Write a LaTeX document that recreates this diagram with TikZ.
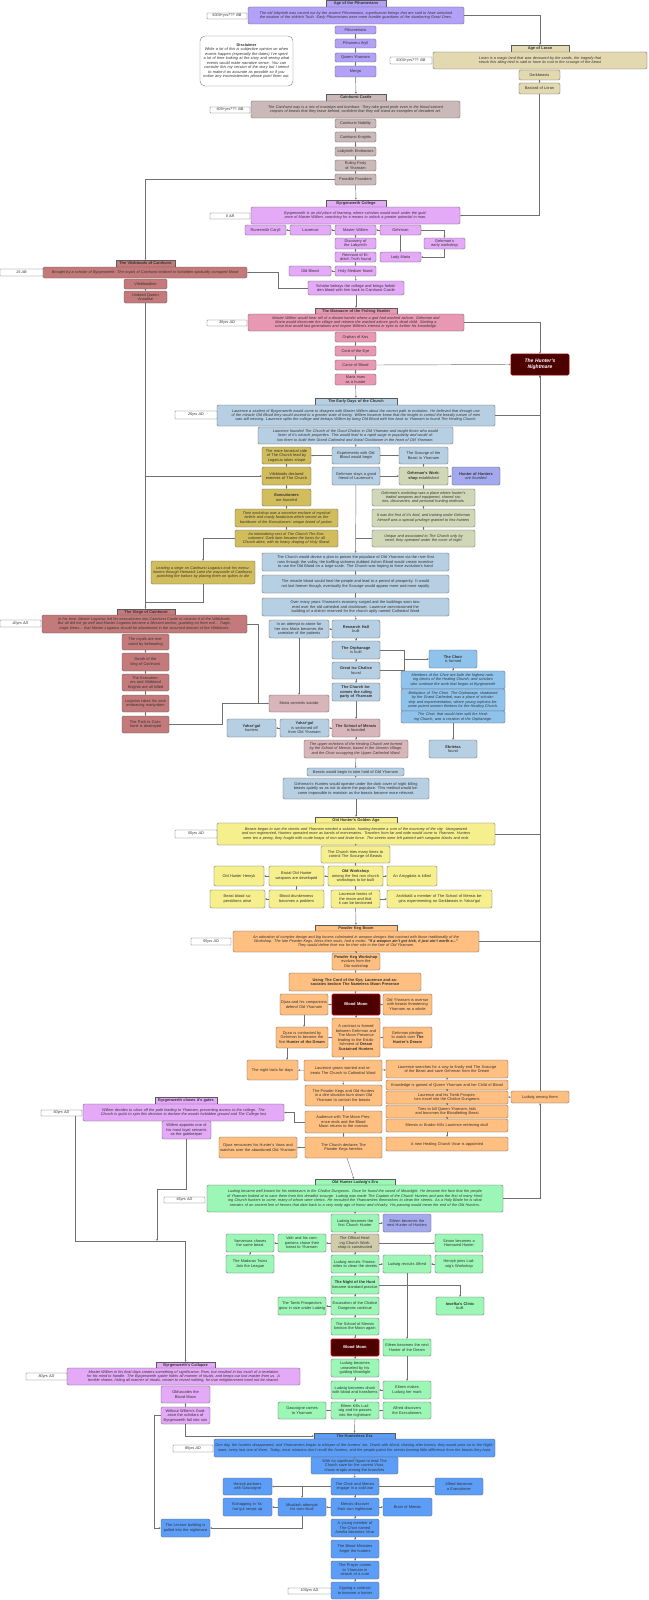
\documentclass[tikz,border=0pt]{standalone}
\usepackage{fontspec}
\setmainfont{Liberation Sans}
\usetikzlibrary{arrows.meta,calc}
\definecolor{pth}{HTML}{B3A1F7}\definecolor{lor}{HTML}{E3D9B0}\definecolor{cai}{HTML}{CBB9B9}
\definecolor{byr}{HTML}{E4A9F7}\definecolor{vil}{HTML}{C47A7A}\definecolor{ham}{HTML}{E898B3}
\definecolor{nm}{HTML}{4D0000}\definecolor{chu}{HTML}{B7CFE2}\definecolor{gol}{HTML}{D1BD5C}
\definecolor{gws}{HTML}{CFD7B7}\definecolor{hoh}{HTML}{A3A9EC}\definecolor{cho}{HTML}{8FC3EC}
\definecolor{men}{HTML}{D8B5B9}\definecolor{yel}{HTML}{F6EF8E}\definecolor{ora}{HTML}{FFBF80}
\definecolor{grn}{HTML}{9CF7B6}\definecolor{ows}{HTML}{D0CBAB}\definecolor{hl}{HTML}{5C9EF7}
\definecolor{ln}{HTML}{707070}\definecolor{txt}{HTML}{333333}
\newcommand\N[7]{\pgfmathsetmacro\tw{#4-#2-2}\pgfmathsetmacro\mw{#4-#2}\pgfmathsetmacro\mh{#5-#3}%
\node[box,#6,text width=\tw pt,minimum width=\mw pt,minimum height=\mh pt] (#1) at ({(#2+#4)/2},{(#3+#5)/2}) {#7};}
\begin{document}
\begin{tikzpicture}[x=1pt,y=-1pt,
 box/.style={draw=ln!80!black,line width=0.35pt,rounded corners=1.3pt,align=center,inner xsep=1pt,inner ysep=0.3pt,text=txt,font=\fontsize{3.9}{4.5}\selectfont},
 ti/.style={rounded corners=0pt,font=\fontsize{3.9}{4.5}\selectfont\bfseries},
 it/.style={font=\fontsize{3.8}{4.4}\selectfont\itshape},
 dt/.style={fill=white,rounded corners=0.5pt,font=\fontsize{3.8}{4.4}\selectfont\itshape},
 ar/.style={draw=ln,line width=0.45pt,-{Stealth[length=2pt,width=1.8pt]}},
 ln/.style={draw=ln,line width=0.45pt}]
\useasboundingbox (0,0) rectangle (648,1600);
\fill[white] (0,0) rectangle (648,1600);
% Pthumerians
\N{pt}{326}{0}{386}{7}{ti,fill=pth}{Age of the Pthumerians}
\N{pd}{248}{7}{464}{24}{it,fill=pth}{The old labyrinth was carved out by the ancient Pthumerians, superhuman beings that are said to have unlocked the wisdom of the eldritch Truth. Early Pthumerians were mere humble guardians of the slumbering Great Ones.}
\N{pdt}{207}{13}{247}{19}{dt}{5000+yrs??? BB}
\N{p1}{335}{26}{376}{34}{fill=pth}{Pthumerians}
\N{p2}{335}{39}{376}{48}{fill=pth}{Pthumeru Ihyll}
\N{p3}{335}{53}{376}{62}{fill=pth}{Queen Yharnam}
\N{p4}{335}{66}{376}{77}{fill=pth}{Mergo}
\N{dis}{200}{36}{293}{86}{fill=white,rounded corners=5pt,draw=ln}{\textbf{Disclaimer}\\\itshape While a lot of this is subjective opinion on when events happen (especially the dates) I've spent a lot of time looking at the story and seeing what events would make narrative sense. You can consider this my version of the story but I intend to make it as accurate as possible so if you notice any inconsistencies please point them out.}
% Loran
\N{lt}{511}{45}{569}{52}{ti,fill=lor}{Age of Loran}
\N{ld}{433}{52}{647}{69}{it,fill=lor}{Loran is a magic land that was devoured by the sands, the tragedy that struck this ailing land is said to have its root in the scourge of the beast}
\N{ldt}{390}{57}{432}{64}{dt}{5000+yrs??? BB}
\N{l1}{519}{70}{560}{80}{fill=lor}{Darkbeasts}
\N{l2}{519}{83}{560}{94}{fill=lor}{Bastard of Loran}
% Cainhurst
\N{ct}{326}{94}{386}{101}{ti,fill=cai}{Cainhurst Castle}
\N{cd}{251}{101}{460}{118}{it,fill=cai}{The Cainhurst way is a mix of nostalgia and bombast. They take great pride even in the blood-stained corpses of beasts that they leave behind, confident that they will stand as examples of decadent art.}
\N{cdt}{210}{107}{250}{113}{dt}{500+yrs??? BB}
\N{c1}{335}{119}{376}{128}{fill=cai}{Cainhurst Nobility}
\N{c2}{335}{132}{376}{142}{fill=cai}{Cainhurst Knights}
\N{c3}{335}{147}{376}{156}{fill=cai}{Labyrinth Endeavors}
\N{c4}{335}{160}{376}{171}{fill=cai}{Ruling Party of Yharnam}
\N{c5}{335}{174}{376}{185}{fill=cai}{Possible Founders}
% Byrgenwerth
\N{bt}{326}{200}{386}{207}{ti,fill=byr}{Byrgenwerth College}
\N{bd}{251}{207}{460}{224}{it,fill=byr}{Byrgenwerth is an old place of learning, where scholars would work under the guidance of Master Willem, searching for a means to unlock a greater potential in man.}
\N{bdt}{210}{213}{250}{219}{dt}{0 AB}
\N{b1}{245}{225}{286}{235}{fill=byr}{Runesmith Caryll}
\N{b2}{290}{225}{331}{235}{fill=byr}{Laurence}
\N{b3}{335}{225}{376}{235}{fill=byr}{Master Willem}
\N{b4}{380}{225}{421}{235}{fill=byr}{Gehrman}
\N{b5}{335}{238}{376}{249}{fill=byr}{Discovery of the Labyrinth}
\N{b6}{335}{252}{376}{262}{fill=byr}{Remnant of Eldritch Truth found}
\N{b7}{380}{252}{421}{262}{fill=byr}{Lady Maria}
\N{b8}{424}{238}{465}{249}{fill=byr}{Gehrman's early workshop}
\N{b9}{289}{266}{331}{276}{fill=byr}{Old Blood}
\N{b10}{335}{266}{376}{276}{fill=byr}{Holy Medium found}
\N{b11}{308}{281}{404}{295}{fill=byr}{Scholar betrays the college and brings forbidden blood with him back to Cainhurst Castle}
% Vilebloods
\N{vt}{116}{260}{175}{267}{ti,fill=vil}{The Vilebloods of Cainhurst}
\N{vd}{43}{267}{247}{278}{it,fill=vil}{Brought by a scholar of Byrgenwerth. The royals of Cainhurst imbibed in forbidden spiritually corrupted blood}
\N{vdt}{0}{269}{43}{276}{dt}{15 AB}
\N{v1}{124}{279}{167}{289}{fill=vil}{Vilebloodline}
\N{v2}{124}{291}{167}{303}{fill=vil}{Undead Queen Annalise}
% Hamlet
\N{ht}{315}{308}{397}{314}{ti,fill=ham}{The Massacre of the Fishing Hamlet}
\N{hd}{248}{314}{464}{331}{it,fill=ham}{Master Willem would hear tell of a distant hamlet where a god had washed ashore. Gehrman and Maria would desecrate the village and retrieve the washed ashore god's dead child. Starting a curse that would last generations and inspire Willem's interest in eyes to further his knowledge.}
\N{hdt}{207}{320}{247}{326}{dt}{30yrs AD}
\N{h1}{335}{332}{376}{342}{fill=ham}{Orphan of Kos}
\N{h2}{335}{346}{376}{356}{fill=ham}{Cord of the Eye}
\N{h3}{335}{360}{376}{370}{fill=ham}{Curse of Blood}
\N{h4}{335}{374}{376}{385}{fill=ham}{Maria rises as a hunter}
\N{hn}{511}{354}{569}{375}{fill=nm,draw=red!50!black,line width=0.6pt,text=white,font=\fontsize{5}{6}\selectfont\bfseries\itshape}{The Hunter's Nightmare}
% Early Church
\N{et}{315}{398}{397}{405}{ti,fill=chu}{The Early Days of the Church}
\N{e1}{217}{405}{495}{426}{it,fill=chu}{Laurence a student of Byrgenwerth would come to disagree with Master Willem about the correct path to evolution. He believed that through use of the miracle Old Blood they would ascend to a greater state of being. Willem however knew that the insight to control the beastly nature of men was still missing. Laurence splits the college and betrays Willem by bring Old Blood with him back to Yharnam to found The Healing Church.}
\N{edt}{175}{411}{217}{419}{dt}{25yrs AD}
\N{e2}{258}{427}{453}{444}{it,fill=chu}{Laurence founded The Church of the Good Chalice in Old Yharnam and taught those who would listen of it's miracle properties. This would lead to a rapid surge in popularity and would allow them to build their Grand Cathedral and Astral Clocktower in the heart of Old Yharnam.}
\N{e3}{262}{447}{311}{464}{fill=gol}{The more fanatical side of The Church lead by Logarius takes shape}
\N{e4}{332}{447}{380}{464}{fill=chu}{Experiments with Old Blood would begin}
\N{e5}{399}{447}{448}{464}{fill=chu}{The Scourge of the Beast in Yharnam}
\N{e6}{262}{467}{311}{485}{fill=gol}{Vilebloods declared enemies of The Church}
\N{e7}{332}{467}{380}{485}{fill=chu}{Gehrman stays a good friend of Laurence's}
\N{e8}{399}{467}{448}{485}{fill=gws}{\textbf{Gehrman's Workshop} established}
\N{e9}{452}{467}{500}{485}{fill=hoh}{\textbf{Hunter of Hunters}\\\textit{are founded}}
\N{e10}{262}{489}{311}{506}{fill=gol}{\textbf{Executioners}\\\textit{are founded}}
\N{e11}{235}{509}{338}{527}{it,fill=gol}{Their workshop was a secretive enclave of mystical beliefs and rowdy fanaticism which served as the backbone of the Executioners' unique brand of justice.}
\N{e12}{235}{530}{338}{547}{it,fill=gol}{An intimidating sect of The Church The Executioners' Garb later became the basis for all Church attire, with its heavy draping of Holy Shawl.}
\N{e13}{372}{489}{475}{506}{it,fill=gws}{Gehrman's workshop was a place where hunter's traded weapons and equipment, shared stories, discoveries, and personal hunting methods.}
\N{e14}{372}{509}{475}{527}{it,fill=gws}{It was the first of it's kind, and training under Gehrman himself was a special privilege granted to few hunters}
\N{e15}{372}{530}{475}{547}{it,fill=gws}{Unique and associated to The Church only by need, they operated under the cover of night}
\N{e16}{151}{561}{255}{584}{it,fill=gol}{Leading a siege on Cainhurst Logarius took his executioners through Hemwick Lane the waycastle of Cainhurst, punishing the traitors by placing them on spikes to die}
\N{e17}{262}{553}{449}{571}{fill=chu}{The Church would devise a plan to poison the populace of Old Yharnam via the river that runs through the valley, the baffling sickness dubbed Ashen Blood would create incentive to use the Old Blood on a large scale. The Church was hoping to force evolution's hand}
\N{e18}{262}{575}{449}{593}{fill=chu}{The miracle blood would heal the people and lead to a period of prosperity. It would not last forever though, eventually the Scourge would appear more and more rapidly}
\N{e19}{262}{598}{449}{616}{fill=chu}{Over many years Yharnam's economy surged and the buildings soon towered over the old cathedral and clocktower. Laurence commissioned the building of a district reserved for the church aptly named Cathedral Ward}
% Siege
\N{st}{117}{609}{175}{615}{ti,fill=vil}{The Siege of Cainhurst}
\N{sd}{42}{615}{247}{633}{it,fill=vil}{In his time, Master Logarius led his executioners into Cainhurst Castle to cleanse it of the Vilebloods. But all did not go well and Master Logarius became a blessed anchor, guarding on from evil... Tragic, tragic times... that Master Logarius should be abandoned in the accursed domain of the Vilebloods.}
\N{sdt}{0}{620}{41}{627}{dt}{40yrs AD}
\N{s1}{122}{634}{169}{650}{fill=vil}{The royals are executed by beheading}
\N{s2}{122}{653}{169}{671}{fill=vil}{Death of the king of Cainhurst}
\N{s3}{122}{674}{169}{691}{fill=vil}{The Executioners and Vileblood Knights are all killed}
\N{s4}{122}{695}{169}{712}{fill=vil}{Logarius takes his seat embracing martyrdom}
\N{s5}{122}{716}{169}{733}{fill=vil}{The Path to Cainhurst is destroyed}
\N{e20}{269}{620}{329}{638}{fill=chu}{In an attempt to atone for her sins Maria becomes the caretaker of the patients}
\N{e21}{332}{620}{380}{638}{fill=chu}{\textbf{Research Hall}\\built}
\N{e22}{332}{641}{380}{659}{fill=chu}{\textbf{The Orphanage}\\is built}
\N{e23}{332}{662}{380}{679}{fill=chu}{\textbf{Great Isz Chalice}\\found}
\N{e24}{429}{650}{477}{668}{fill=cho}{\textbf{The Choir}\\is formed}
\N{e25}{401}{671}{505}{689}{it,fill=cho}{Members of the Choir are both the highest ranking clerics of the Healing Church, and scholars who continue the work that began at Byrgenwerth}
\N{e26}{401}{689}{505}{711}{it,fill=cho}{Birthplace of The Choir. The Orphanage, shadowed by the Grand Cathedral, was a place of scholarship and experimentation, where young orphans became potent unseen thinkers for the Healing Church.}
\N{e27}{401}{711}{505}{723}{it,fill=cho}{The Choir, that would later split the Healing Church, was a creation of the Orphanage.}
\N{e28}{269}{695}{329}{712}{fill=men}{Maria commits suicide}
\N{e29}{332}{683}{380}{701}{fill=chu}{\textbf{The Church becomes the ruling party of Yharnam}}
\N{e30}{332}{719}{380}{737}{fill=men}{\textbf{The School of Mensis}\\is founded}
\N{e31}{280}{719}{329}{737}{fill=chu}{\textbf{Yahar'gul}\\is sectioned off from Old Yharnam}
\N{e32}{227}{719}{276}{737}{fill=chu}{\textbf{Yahar'gul}\\hunters}
\N{e33}{429}{740}{477}{758}{fill=chu}{\textbf{Ebrietas}\\found}
\N{e34}{304}{740}{408}{758}{it,fill=men}{The upper echelons of the Healing Church are formed by the School of Mensis, based in the Unseen Village, and the Choir occupying the Upper Cathedral Ward.}
\N{e35}{307}{768}{404}{776}{fill=chu}{Beasts would begin to take hold of Old Yharnam}
\N{e36}{283}{778}{429}{799}{fill=chu}{Gehrman's Hunters would operate under the dark cover of night killing beasts quietly so as not to alarm the populace. This method would become impossible to maintain as the beasts become more relevant.}
% Golden Age
\N{gt}{315}{817}{397}{823}{ti,fill=yel}{Old Hunter's Golden Age}
\N{gd}{217}{823}{495}{845}{it,fill=yel}{Beasts began to ruin the streets and Yharnam needed a solution, hunting became a core of the economy of the city. Unorganized and non regimented, Hunters operated more as bands of mercenaries. Travelers from far and wide would come to Yharnam. Hunters were ten a penny, they fought with crude heaps of iron and brute force. The streets were left painted with sanguine blacks and reds}
\N{gdt}{175}{830}{217}{838}{dt}{50yrs AD}
\N{g1}{321}{846}{390}{863}{fill=yel}{The Church tries many times to control The Scourge of Beasts}
\N{g2}{214}{866}{264}{886}{fill=yel}{Old Hunter Henryk}
\N{g3}{269}{866}{324}{886}{fill=yel}{Brutal Old Hunter weapons are developed}
\N{g4}{328}{866}{383}{886}{fill=yel}{\textbf{Old Workshop}\\among the first non church workshops to be built}
\N{g5}{387}{866}{437}{886}{fill=yel}{An Amygdala is killed}
\N{g6}{210}{890}{265}{908}{fill=yel}{Beast blood superstitions arise}
\N{g7}{269}{890}{324}{908}{fill=yel}{Blood drunkenness becomes a problem}
\N{g8}{331}{890}{380}{908}{fill=yel}{Laurence learns of the moon and that it can be beckoned}
\N{g9}{387}{890}{492}{908}{fill=yel}{Archibald a member of The School of Mensis begins experimenting on Darkbeasts in Yahar'gul}
% Powder Keg
\N{kt}{315}{925}{397}{931}{ti,fill=ora}{Powder Keg Boom}
\N{kd}{233}{931}{479}{952}{it,fill=ora}{An adoration of complex design and big booms culminated in weapon designs that contrast with those traditionally of the Workshop. The late Powder Kegs, bless their souls, had a motto: \textbf{"If a weapon ain't got kick, it just ain't worth a..."}\\They would define their era for their role in the fate of Old Yharnam.}
\N{kdt}{191}{938}{231}{945}{dt}{55yrs AD}
\N{k1}{332}{953}{380}{970}{fill=ora}{\textbf{Powder Keg Workshop}\\evolves from the Oto workshop}
\N{k2}{289}{973}{421}{991}{fill=ora,font=\fontsize{3.9}{4.5}\selectfont\bfseries}{Using The Cord of the Eye, Laurence and associates beckon The Nameless Moon Presence}
\N{k3}{280}{994}{328}{1015}{fill=ora}{Djura and his companions defend Old Yharnam}
\N{k4}{332}{994}{380}{1015}{fill=nm,draw=red!80!black,line width=0.6pt,text=white,font=\fontsize{4}{4.6}\selectfont\bfseries}{Blood Moon}
\N{k5}{383}{994}{432}{1015}{fill=ora}{Old Yharnam is overrun with beasts threatening Yharnam as a whole}
\N{k6}{276}{1027}{328}{1048}{fill=ora}{Djura is contracted by Gehrman to become the first \textbf{Hunter of the Dream}}
\N{k7}{332}{1018}{380}{1057}{fill=ora}{A contract is formed between Gehrman and The Moon Presence leading to the Establishment of \textbf{Dream Sustained Hunters}}
\N{k8}{383}{1027}{432}{1048}{fill=ora}{Gehrman pledges to watch over \textbf{The Hunter's Dream}}
\N{k9}{247}{1060}{298}{1080}{fill=ora}{The night lasts for days}
\N{k10}{304}{1060}{382}{1081}{fill=ora}{Laurence grows worried and retreats The Church to Cathedral Ward}
\N{k11}{386}{1060}{508}{1078}{fill=ora}{Laurence searches for a way to finally end The Scourge of the Beast and save Gehrman from the Dream}
\N{k12}{386}{1080}{508}{1090}{fill=ora}{Knowledge is gained of Queen Yharnam and her Child of Blood}
\N{k13}{386}{1091}{508}{1104}{fill=ora}{Laurence and his Tomb Prospectors travel into the Chalice Dungeons}
\N{k14}{386}{1105}{508}{1118}{fill=ora}{Tries to kill Queen Yharnam, fails and becomes the Bloodletting Beast}
\N{k15}{386}{1119}{508}{1132}{fill=ora}{Mensis or Brador Kills Laurence retrieving skull}
\N{k16}{386}{1137}{508}{1151}{fill=ora}{A new Healing Church Vicar is appointed}
\N{k17}{305}{1085}{382}{1106}{fill=ora}{The Powder Kegs and Old Hunters in a dire situation burn down Old Yharnam to contain the beasts}
\N{k18}{305}{1111}{382}{1133}{fill=ora}{Audience with The Moon Presence ends and the Blood Moon returns to the cosmos}
\N{k19}{305}{1137}{382}{1158}{fill=ora}{The Church declares The Powder Kegs heretics}
\N{k20}{219}{1137}{297}{1158}{fill=ora}{Djura renounces his Hunter's Vows and watches over the abandoned Old Yharnam}
\N{lam}{511}{1091}{569}{1103}{fill=ora}{Ludwig among them}
% Byrgenwerth closes
\N{yt}{155}{1097}{217}{1104}{ti,fill=byr}{Byrgenwerth closes it's gates}
\N{yd}{83}{1104}{284}{1121}{it,fill=byr}{Willem decides to close off the path leading to Yharnam, preventing access to the college. The Church is quick to spin this decision to declare the woods forbidden ground and The College lost}
\N{ydt}{41}{1110}{82}{1116}{dt}{60yrs AD}
\N{y1}{162}{1121}{211}{1139}{fill=byr}{Willem appoints one of his most loyal servants as the gatekeeper}
% Ludwig
\N{lt2}{315}{1179}{395}{1185}{ti,fill=grn}{Old Hunter Ludwig's Era}
\N{ldsc}{207}{1185}{503}{1212}{it,fill=grn}{Ludwig became well known for his endeavors in the Chalice Dungeons. Once he found the sword of Moonlight. He became the face that the people of Yharnam looked at to save them from this dreadful scourge. Ludwig was made The Captain of the Church Hunters and was the first of many Healing Church hunters to come, many of whom were clerics. He recruited the Yharnamites themselves to clean the streets. As a Holy Blade he is what remains of an ancient line of heroes that date back to a very early age of honor and chivalry. His passing would mean the end of the Old Hunters.}
\N{ldt2}{164}{1197}{205}{1203}{dt}{65yrs AD}
\N{w1}{331}{1214}{379}{1232}{fill=grn}{Ludwig becomes the first Church Hunter}
\N{w2}{383}{1214}{431}{1232}{fill=hoh}{Eileen becomes the next Hunter of Hunters}
\N{w3}{226}{1234}{274}{1252}{fill=grn}{Yamamura chases the same beast}
\N{w4}{278}{1234}{326}{1252}{fill=grn}{Valtr and his companions chase their beast to Yharnam}
\N{w5}{331}{1234}{379}{1252}{fill=ows}{The Official Healing Church Workshop is constructed}
\N{w6}{435}{1234}{483}{1252}{fill=grn}{Simon becomes a Harrowed Hunter}
\N{w7}{226}{1255}{274}{1273}{fill=grn}{The Madaras Twins Join the League}
\N{w8}{331}{1255}{379}{1273}{fill=grn}{Ludwig recruits Yharnamites to clean the streets}
\N{w9}{383}{1255}{431}{1273}{fill=grn}{Ludwig recruits Alfred}
\N{w10}{435}{1255}{483}{1273}{fill=grn}{Henryk joins Ludwig's Workshop}
\N{w11}{331}{1276}{379}{1294}{fill=grn}{\textbf{The Night of the Hunt} became standard practice}
\N{w12}{436}{1297}{484}{1315}{fill=grn}{\textbf{Iosefka's Clinic}\\built}
\N{w13}{278}{1297}{326}{1315}{fill=grn}{The Tomb Prospectors grow in size under Ludwig}
\N{w14}{331}{1297}{379}{1315}{fill=grn}{Excavation of the Chalice Dungeons continue}
\N{w15}{331}{1318}{379}{1335}{fill=grn}{The School of Mensis beckon the Moon again}
\N{w16}{331}{1339}{379}{1356}{fill=nm,draw=red!80!black,line width=0.6pt,text=white,font=\fontsize{4}{4.6}\selectfont\bfseries}{Blood Moon}
\N{w17}{383}{1339}{431}{1356}{fill=grn}{Eileen becomes the next Hunter of the Dream}
\N{w18}{331}{1359}{379}{1377}{fill=grn}{Ludwig becomes unraveled by his guiding Moonlight}
\N{w19}{331}{1381}{379}{1399}{fill=grn}{Ludwig becomes drunk with blood and transforms}
\N{w20}{383}{1381}{431}{1399}{fill=grn}{Eileen makes Ludwig her mark}
\N{w21}{331}{1402}{379}{1419}{fill=grn}{Eileen Kills Ludwig and he passes into the nightmare}
\N{w22}{383}{1402}{431}{1419}{fill=grn}{Alfred discovers the Executioners}
\N{w23}{278}{1402}{326}{1419}{fill=grn}{Gascoigne comes to Yharnam}
% Collapse
\N{zt}{156}{1362}{215}{1368}{ti,fill=byr}{Byrgenwerth's Collapse}
\N{zd}{67}{1368}{300}{1385}{it,fill=byr}{Master Willem in his final days creates something of significance, Rom, but resulted in too much of a revelation for his mind to handle. The Byrgenwerth spider hides all manner of rituals, and keeps our lost master from us. A terrible shame, hiding all manner of rituals, certain to reveal nothing, for true enlightenment need not be shared.}
\N{zdt}{26}{1373}{67}{1380}{dt}{80yrs AD}
\N{z1}{161}{1386}{210}{1403}{fill=byr}{Obfuscates the Blood Moon}
\N{z2}{161}{1407}{210}{1424}{fill=byr}{Without Willem's Guidance the scholars of Byrgenwerth fall into ruin}
% Hunterless
\N{nt}{314}{1433}{395}{1439}{ti,fill=hl}{The Hunterless Era}
\N{nd}{214}{1439}{495}{1457}{it,fill=hl}{One day, the hunters disappeared, and Yharnamites began to whisper of the hunters' sin. Drunk with blood, chasing after beasts, they would pass on to the Nightmare, every last one of them. Today, most ministers don't recall the hunters, and the people patrol the streets bearing little difference from the beasts they hunt.}
\N{ndt}{173}{1445}{213}{1452}{dt}{85yrs AD}
\N{n1}{311}{1457}{398}{1474}{fill=hl}{With no significant figure to lead The Church save for the current Vicar, chaos erupts among the branches}
\N{n2}{223}{1478}{272}{1495}{fill=hl}{Henryk partners with Gascoigne}
\N{n3}{331}{1478}{379}{1495}{fill=hl}{The Choir and Mensis engage in a cold war}
\N{n4}{435}{1478}{483}{1495}{fill=hl}{Alfred becomes a Executioner}
\N{n5}{223}{1498}{272}{1516}{fill=hl}{Kidnapping in Yahar'gul ramps up}
\N{n6}{278}{1498}{326}{1516}{fill=hl}{Micolash attempts his own ritual}
\N{n7}{331}{1498}{379}{1516}{fill=hl}{Mensis discover their own nightmare}
\N{n8}{383}{1498}{432}{1516}{fill=hl}{Brain of Mensis}
\N{n9}{161}{1519}{210}{1537}{fill=hl}{The Lecture building is pulled into the nightmare}
\N{n10}{331}{1519}{379}{1537}{fill=hl}{A young member of The Choir named Amelia becomes Vicar}
\N{n11}{331}{1540}{379}{1558}{fill=hl}{The Blood Ministers forget the hunters}
\N{n12}{331}{1561}{379}{1579}{fill=hl}{The Prayer comes to Yharnam in search of a cure}
\N{n13}{331}{1582}{379}{1599}{fill=hl}{Signing a contract to become a hunter}
\N{ndt2}{288}{1588}{331}{1594}{dt}{100yrs AD}
% ---- connectors ----
\foreach \a/\b in {p1/p2,p2/p3,p3/p4,p4/ct,c1/c2,c2/c3,c3/c4,c4/c5,c5/bt,b3/b5,b5/b6,b6/b10,b10/b11,b11/ht,v1/v2,h1/h2,h2/h3,h3/h4,h4/et,e2/e4,e3/e6,e5/e8,e6/e10,e10/e11,e11/e12,e8/e13,e13/e14,e14/e15,e7/e17,e17/e18,e18/e19,e19/e21,e21/e22,e22/e23,e23/e29,e29/e30,e20/e28,e24/e25,e27/e33,e30/e34,e34/e35,e35/e36,e36/gt,gd/g1,g1/g4,g4/g8,g8/kt,kd/k1,k1/k2,k2/k4,k4/k7,k11/k12,k12/k13,k13/k14,k14/k15,k15/k16,k17/k18,k18/k19,k19/lt2,ldsc/w1,w1/w5,w5/w8,w8/w11,w11/w14,w14/w15,w15/w16,w16/w18,w18/w19,w19/w21,w21/nt,w17/w20,w3/w7,nd/n1,n1/n3,n3/n7,n7/n10,n10/n11,n11/n12,n12/n13,s1/s2,s2/s3,s3/s4,s4/s5,l1/l2,z2/z1,b3/b2,b2/b1,b4/b3,b10/b9,e4/e3,e4/e5,e7/e8,e8/e9,e21/e20,e30/e31,e31/e32,g4/g3,g4/g5,g3/g2,g7/g6,g8/g9,k4/k3,k4/k5,k7/k6,k8/k7,k10/k11,k10/k9,k19/k20,k13/lam,w1/w2,w5/w4,w4/w3,w5/w6,w8/w9,w10/w9,w14/w13,w20/w19,w22/w21,w21/w23,n3/n2,n3/n4,n7/n6,n6/n5,n7/n8,g3/g7,k10/k17}
  \draw[ar] (\a) -- (\b);
\draw[ar] (pd.east) -| (lt.north);
\draw[ar] (l2.south) |- (bd.east);
\draw[ar] (c5.west) -| (vt.north);
\draw[ar] (b4.south) -- (b7.north);
\draw[ar] (b4.east) -| (b8.north);
\draw[ar] (b8.south) |- (b7.east);
\draw[ar] (b11.west) -- (278,288) |- (vd.east);
\draw[ar] (v2.south) -- (v2.south |- st.north);
\draw[ar] (v2.south |- e6.west) -- (e6.west);
\draw[ar] (h3.east) -- (hn.west);
\draw[ar] (hd.east) -| (hn.north);
\draw[ar] (e1.east) -| (hn.south);
\draw[ar] (gd.east) -| (hn.south);
\draw[ar] (kd.east) -| (hn.south);
\draw[ar] (lam.north) -- (hn.south);
\draw[ar] (ldsc.east) -| (lam.south);
\draw[ln] (e15.west) -- (e15.west -| e7.south);
\draw[ar] (e12.west) -| (e16.north);
\draw[ln] (e16.south) |- (v2.south |- 0,602);
\draw[ar] (e22.east) -- (404,650) |- (e24.west);
\draw[ln] (e23.east) -- (404,670.5) -- (404,659);
\draw[ar] (sd.east) -- (258,624) |- (e28.west);
\draw[ln] (s5.east) -- (222,724.5) |- (258,703.5);
\draw[ar] ([xshift=-15pt]k6.south) -- ([xshift=-15pt]k6.south |- k9.north);
\draw[ar] (k3.south) -- (k3.south |- k6.north);
\draw[ar] (k10.north |- k7.south) -- (k10.north);
\draw[ar] (k18.west) -- (294,1122) |- (yd.east);
\coordinate (yc) at (75,1116);
\draw[ar] (yc) |- (185.5,1241) -- (zt.north);
\draw[ar] (y1.south) -- (186.5,1189) -- (157,1189) -- (157,1241);
\draw[ar] (w9.south) -- (w17.north);
\draw[ar] (w11.east) -| (w12.north);
\draw[ar] (z2.south) |- (nt.west);
\draw[ar] (z2.west) -- (154,1415.5) |- (n9.west);
\draw[ar] (n6.north |- n3.west) -- (n6.north);
\draw[ar] (n6.south) |- (n9.east);
\end{tikzpicture}
\end{document}
